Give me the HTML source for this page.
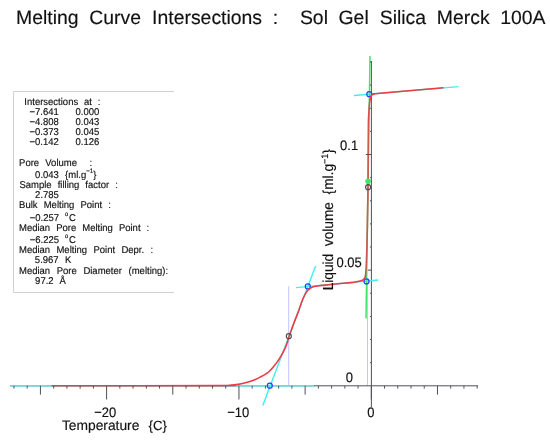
<!DOCTYPE html><html><head><meta charset="utf-8"><style>html,body{margin:0;padding:0;background:#fff;width:550px;height:441px;overflow:hidden}svg{display:block;text-rendering:geometricPrecision}text{font-family:"Liberation Sans",Arial,sans-serif;fill:#111;stroke:#111;stroke-width:0.15px}</style></head><body>
<svg width="550" height="441" viewBox="0 0 550 441">
<path d="M174,91.5 H13.5 V292.5 H174" fill="none" stroke="#d0d0d0" stroke-width="1"/>
<text transform="translate(16.03,23.5) scale(1,1.0)" font-size="19.4" >Melting</text>
<text transform="translate(89.27,23.5) scale(1,1.0)" font-size="19.4" >Curve</text>
<text transform="translate(152.12,23.5) scale(1,1.0)" font-size="19.4" >Intersections</text>
<text transform="translate(272.65,23.5) scale(1,1.0)" font-size="19.4" >:</text>
<text transform="translate(299.94,23.5) scale(1,1.0)" font-size="19.4" >Sol</text>
<text transform="translate(338.54,23.5) scale(1,1.0)" font-size="19.4" >Gel</text>
<text transform="translate(379.74,23.5) scale(1,1.0)" font-size="19.4" >Silica</text>
<text transform="translate(436.83,23.5) scale(1,1.0)" font-size="19.4" >Merck</text>
<text transform="translate(500.25,23.5) scale(1,1.0)" font-size="19.4" >100A</text>
<text transform="translate(24.33,104.8) scale(1,1.04)" font-size="9.5" word-spacing="0.253" >Intersections&#160;&#160;at&#160;&#160;:</text>
<text transform="translate(29.54,115.0) scale(1,1.04)" font-size="9.5" >&#8722;7.641</text>
<text transform="translate(75.56,115.0) scale(1,1.04)" font-size="9.5" >0.000</text>
<text transform="translate(29.54,125.0) scale(1,1.04)" font-size="9.5" >&#8722;4.808</text>
<text transform="translate(75.56,125.0) scale(1,1.04)" font-size="9.5" >0.043</text>
<text transform="translate(29.54,135.0) scale(1,1.04)" font-size="9.5" >&#8722;0.373</text>
<text transform="translate(75.56,135.0) scale(1,1.04)" font-size="9.5" >0.045</text>
<text transform="translate(29.54,145.0) scale(1,1.04)" font-size="9.5" >&#8722;0.142</text>
<text transform="translate(75.56,145.0) scale(1,1.04)" font-size="9.5" >0.126</text>
<text transform="translate(19.04,166.2) scale(1,1.04)" font-size="9.5" word-spacing="0.461" >Pore&#160;&#160;Volume&#160;&#160;&#160;&#160;:</text>
<text transform="translate(35.11,177.8) scale(1,1.04)" font-size="9.5" word-spacing="0.474" >0.043&#160;&#160;{ml.g<tspan dy='-4.3' font-size='6.2'>&#8722;1</tspan><tspan dy='4.3'>}</tspan></text>
<text transform="translate(19.42,187.6) scale(1,1.04)" font-size="9.5" word-spacing="0.378" >Sample&#160;&#160;filling&#160;&#160;factor&#160;&#160;:</text>
<text transform="translate(35.10,198.4) scale(1,1.04)" font-size="9.5" >2.785</text>
<text transform="translate(19.12,208.3) scale(1,1.04)" font-size="9.5" word-spacing="0.406" >Bulk&#160;&#160;Melting&#160;&#160;Point&#160;&#160;:</text>
<text transform="translate(29.67,220.9) scale(1,1.04)" font-size="9.5" word-spacing="0.213" >&#8722;0.257&#160;&#160;<tspan dy='-4.6' font-size='6.3'>o</tspan><tspan dx='0.7' dy='4.6'>C</tspan></text>
<text transform="translate(18.97,230.7) scale(1,1.04)" font-size="9.5" word-spacing="0.372" >Median&#160;&#160;Pore&#160;&#160;Melting&#160;&#160;Point&#160;&#160;:</text>
<text transform="translate(29.67,242.8) scale(1,1.04)" font-size="9.5" word-spacing="0.270" >&#8722;6.225&#160;&#160;<tspan dy='-4.6' font-size='6.3'>o</tspan><tspan dx='0.7' dy='4.6'>C</tspan></text>
<text transform="translate(18.97,253.3) scale(1,1.04)" font-size="9.5" word-spacing="0.527" >Median&#160;&#160;Melting&#160;&#160;Point&#160;&#160;Depr.&#160;&#160;:</text>
<text transform="translate(34.87,263.3) scale(1,1.04)" font-size="9.5" word-spacing="0.482" >5.967&#160;&#160;K</text>
<text transform="translate(18.97,273.5) scale(1,1.04)" font-size="9.5" word-spacing="0.658" >Median&#160;&#160;Pore&#160;&#160;Diameter&#160;&#160;(melting):</text>
<text transform="translate(35.10,284.2) scale(1,1.04)" font-size="9.5" word-spacing="0.269" >97.2&#160;&#160;&#197;</text>
<text transform="translate(105.28,417) scale(1,1.06)" font-size="13" text-anchor="middle">&#8722;20</text>
<text transform="translate(238.24,417) scale(1,1.06)" font-size="13" text-anchor="middle">&#8722;10</text>
<text transform="translate(370.74,417) scale(1,1.06)" font-size="13" text-anchor="middle">0</text>
<text transform="translate(358.17,150) scale(1,1.06)" font-size="13" text-anchor="end">0.1</text>
<text transform="translate(361.72,266.5) scale(1,1.06)" font-size="13" text-anchor="end">0.05</text>
<text transform="translate(353.05,381.9) scale(1,1.06)" font-size="13" text-anchor="end">0</text>
<text transform="translate(61.91,430.2) scale(1,1.0)" font-size="13.8" >Temperature</text>
<text transform="translate(148.53,430.2) scale(1,1.0)" font-size="13.2" >{C}</text>
<line x1="288.7" y1="286.2" x2="288.7" y2="385.8" stroke="#c4c4ff" stroke-width="1"/>
<line x1="367.5" y1="281.6" x2="367.5" y2="385.8" stroke="#c4c4ff" stroke-width="1"/>
<line x1="10" y1="385.8" x2="478" y2="385.8" stroke="#505058" stroke-width="1"/>
<line x1="371.4" y1="61" x2="371.4" y2="407.3" stroke="#505058" stroke-width="1"/>
<g stroke="#40eef0" stroke-width="1.4" fill="none">
<line x1="10" y1="385.8" x2="314" y2="385.8"/>
<line x1="296" y1="287.6" x2="378.2" y2="280"/>
<line x1="354" y1="95.5" x2="458.5" y2="86.6"/>
<line x1="262.8" y1="405.6" x2="315.6" y2="266.1"/>
</g>
<line x1="370" y1="56" x2="366.0" y2="318.5" stroke="#40e868" stroke-width="1.5"/>
<g fill="none" stroke-width="1.2">
<circle cx="269.8" cy="385.7" r="2.5" stroke="#2040ff"/>
<circle cx="307.8" cy="286.4" r="2.5" stroke="#2040ff"/>
<circle cx="366.5" cy="281.4" r="2.5" stroke="#2040ff"/>
<circle cx="369.3" cy="94.2" r="2.5" stroke="#2040ff"/>
</g>
<path d="M51.50,385.80C79.58,385.77 190.40,385.68 220.00,385.60C249.60,385.52 226.07,385.50 229.10,385.30C232.13,385.10 235.17,384.90 238.20,384.40C241.23,383.90 244.43,383.12 247.30,382.30C250.17,381.48 253.13,380.43 255.40,379.50C257.67,378.57 259.08,377.68 260.90,376.70C262.72,375.72 264.93,374.47 266.30,373.60C267.67,372.73 267.87,372.68 269.10,371.50C270.33,370.32 272.17,368.35 273.70,366.50C275.23,364.65 276.75,362.75 278.30,360.40C279.85,358.05 281.63,354.97 283.00,352.40C284.37,349.83 285.52,347.57 286.50,345.00C287.48,342.43 288.05,339.58 288.90,337.00C289.75,334.42 290.70,332.00 291.60,329.50C292.50,327.00 293.12,325.13 294.30,322.00C295.48,318.87 297.35,314.37 298.70,310.70C300.05,307.03 301.33,302.73 302.40,300.00C303.47,297.27 304.23,295.88 305.10,294.30C305.97,292.72 306.75,291.52 307.60,290.50C308.45,289.48 309.13,288.85 310.20,288.20C311.27,287.55 312.52,287.02 314.00,286.60C315.48,286.18 317.18,285.95 319.10,285.70C321.02,285.45 322.32,285.42 325.50,285.10C328.68,284.78 333.97,284.22 338.20,283.80C342.43,283.38 347.60,283.00 350.90,282.60C354.20,282.20 356.07,281.80 358.00,281.40C359.93,281.00 361.35,280.78 362.50,280.20C363.65,279.62 364.35,279.10 364.90,277.90C365.45,276.70 365.57,275.15 365.80,273.00C366.03,270.85 366.13,268.83 366.30,265.00C366.47,261.17 366.63,255.83 366.80,250.00C366.97,244.17 367.15,237.50 367.30,230.00C367.45,222.50 367.58,212.17 367.70,205.00C367.82,197.83 367.92,194.50 368.00,187.00C368.08,179.50 368.13,170.50 368.20,160.00C368.27,149.50 368.28,132.00 368.40,124.00C368.52,116.00 368.72,115.33 368.90,112.00C369.08,108.67 369.32,106.00 369.50,104.00C369.68,102.00 369.80,101.25 370.00,100.00C370.20,98.75 370.40,97.37 370.70,96.50C371.00,95.63 371.25,95.18 371.80,94.80C372.35,94.42 372.63,94.47 374.00,94.20C375.37,93.93 368.42,94.27 380.00,93.20C391.58,92.13 432.92,88.70 443.50,87.80" stroke="#ec3c48" stroke-width="1.6" fill="none" stroke-linejoin="round"/>
<line x1="369.35" y1="100" x2="366.4" y2="276" stroke="#40e868" stroke-width="1.2" opacity="0.2"/>
<path d="M13.96,385.8v2.8M27.19,385.8v2.8M40.43,385.8v8.8M53.66,385.8v2.8M66.90,385.8v2.8M80.13,385.8v2.8M93.37,385.8v2.8M106.60,385.8v13.7M119.84,385.8v2.8M133.07,385.8v2.8M146.31,385.8v2.8M159.54,385.8v2.8M172.78,385.8v8.8M186.01,385.8v2.8M199.25,385.8v2.8M212.48,385.8v2.8M225.72,385.8v2.8M238.95,385.8v13.7M252.19,385.8v2.8M265.42,385.8v2.8M278.66,385.8v2.8M291.89,385.8v2.8M305.12,385.8v8.8M318.36,385.8v2.8M331.60,385.8v2.8M344.83,385.8v2.8M358.06,385.8v2.8M371.30,385.8v13.7M384.54,385.8v2.8M397.77,385.8v2.8M411.00,385.8v2.8M424.24,385.8v2.8M437.48,385.8v8.8M450.71,385.8v2.8M463.94,385.8v2.8M477.18,385.8v2.8M371.4,362.67h-1.4M371.4,339.54h-1.4M371.4,316.41h-1.4M371.4,293.28h-1.4M371.4,270.15h-3.5M371.4,247.02h-1.4M371.4,223.89h-1.4M371.4,200.76h-1.4M371.4,177.63h-1.4M371.4,154.50h-5.6M371.4,131.37h-1.4M371.4,108.24h-1.4M371.4,85.11h-1.4M371.4,61.98h-1.4" stroke="#505058" stroke-width="1" fill="none"/>
<g fill="none" stroke-width="1.2">
<circle cx="288.8" cy="336.2" r="2.5" stroke="#505050"/>
<circle cx="368.1" cy="187.2" r="2.5" stroke="#505050"/>
</g>
<circle cx="368.1" cy="181.3" r="2.8" fill="#40e860"/>
<text transform="translate(332.9,290.3) rotate(-90) scale(1,1.06)" font-size="13.7">Liquid&#160;&#160;volume&#160;&#160;{ml.g<tspan dy="-5" font-size="9">&#8722;1</tspan><tspan dy="5">}</tspan></text>
</svg></body></html>
